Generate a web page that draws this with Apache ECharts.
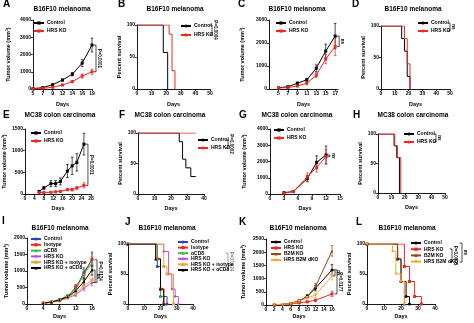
<!DOCTYPE html>
<html>
<head>
<meta charset="utf-8">
<script src="https://cdn.jsdelivr.net/npm/echarts@6/dist/echarts.min.js"></script>
<style>
  html, body { margin: 0; padding: 0; background: #fff; }
  #chart { width: 474px; height: 323px; }
</style>
</head>
<body>
<div id="chart"></div>
<script>
// ---------- A: B16F10 tumor growth ----------
const daysA = ['5', '7', '9', '12', '14', '16', '19'];
const ctrlA = [20, 80, 250, 520, 860, 1500, 2550];
const ctrlErrA = [10, 20, 40, 60, 100, 200, 400];
const hrsA = [10, 40, 100, 230, 430, 750, 1000];
const hrsErrA = [5, 10, 20, 40, 60, 120, 150];

// ---------- B: B16F10 survival ----------
const survCtrlDaysB = [0, 18, 21];
const survCtrlPctB = [100, 57.1, 0];
const survHrsDaysB = [0, 22, 24, 26];
const survHrsPctB = [100, 85.7, 28.6, 0];

// ---------- C: B16F10 tumor growth ----------
const daysC = [5, 7, 9, 11, 13, 15, 17];
const ctrlC = [50, 100, 250, 400, 900, 1650, 2300];
const ctrlErrC = [10, 20, 50, 60, 150, 300, 550];
const hrsC = [40, 60, 130, 250, 600, 1300, 1850];
const hrsErrC = [10, 15, 30, 50, 100, 200, 400];

// ---------- D: B16F10 survival ----------
const survCtrlDaysD = [0, 15, 17, 19, 21];
const survCtrlPctD = [100, 80, 60, 20, 0];
const survHrsDaysD = [0, 17, 19, 21];
const survHrsPctD = [100, 80, 40, 0];

// ---------- E: MC38 tumor growth ----------
const daysE = [6, 8, 11, 13, 15, 18, 20, 22, 25];
const ctrlE = [60, 140, 240, 240, 290, 530, 650, 730, 1150];
const ctrlErrE = [15, 30, 70, 70, 80, 150, 200, 200, 250];
const hrsE = [30, 35, 40, 50, 60, 100, 100, 140, 200];
const hrsErrE = [5, 10, 10, 10, 15, 20, 25, 30, 60];

// ---------- F: MC38 survival ----------
const survCtrlDaysF = [0, 25, 27, 29, 32, 35];
const survCtrlPctF = [100, 85.7, 57.1, 42.9, 28.6, 28.6];
const survHrsDaysF = [0, 35];
const survHrsPctF = [100, 100];

// ---------- G: MC38 tumor growth ----------
const daysG = [3, 5, 8, 10, 12];
const ctrlG = [80, 150, 950, 1950, 2400];
const ctrlErrG = [20, 30, 200, 400, 550];
const hrsG = [60, 150, 1050, 1650, 2300];
const hrsErrG = [20, 40, 250, 300, 450];

// ---------- H: MC38 survival ----------
const survCtrlDaysH = [0, 12, 14, 16];
const survCtrlPctH = [100, 80, 60, 0];
const survHrsDaysH = [0, 12.5, 14.5, 17];
const survHrsPctH = [100, 80, 60, 0];

// ---------- I: B16F10 growth with CD8 depletion ----------
const daysI = [4, 6, 8, 10, 12, 14, 16];
const ctrlI = [30, 60, 130, 230, 480, 950, 1340];
const ctrlErrI = [5, 10, 20, 40, 80, 150, 200];
const isoI = [30, 60, 120, 220, 510, 900, 1360];
const isoErrI = [5, 10, 20, 40, 80, 150, 220];
const cd8I = [30, 70, 140, 250, 450, 900, 1240];
const cd8ErrI = [5, 10, 20, 40, 80, 150, 200];
const hrsI = [20, 50, 100, 180, 280, 480, 650];
const hrsErrI = [5, 10, 15, 30, 50, 80, 100];
const hrsIsoI = [20, 50, 100, 200, 330, 550, 730];
const hrsIsoErrI = [5, 10, 15, 30, 50, 80, 120];
const hrsCd8I = [25, 60, 120, 220, 400, 680, 1030];
const hrsCd8ErrI = [5, 10, 20, 40, 60, 100, 150];

// ---------- J: B16F10 survival with CD8 depletion ----------
const survCtrlDaysJ = [0, 18, 20, 24];
const survCtrlPctJ = [100, 62.5, 12.5, 0];
const survIsoDaysJ = [0, 18, 20, 22];
const survIsoPctJ = [100, 75, 25, 0];
const survCd8DaysJ = [0, 18, 20, 22];
const survCd8PctJ = [100, 75, 12.5, 0];
const survHrsDaysJ = [0, 22, 25, 27, 29, 31];
const survHrsPctJ = [100, 87.5, 50, 25, 12.5, 0];
const survHrsIsoDaysJ = [0, 22, 24, 28];
const survHrsIsoPctJ = [100, 62.5, 50, 0];
const survHrsCd8DaysJ = [0, 17, 20, 22];
const survHrsCd8PctJ = [100, 75, 25, 0];

// ---------- K: B16F10 growth, B2M knockout ----------
const daysK = [2, 4, 6, 8, 10, 12, 16];
const ctrlK = [10, 20, 60, 150, 330, 640, 1330];
const ctrlErrK = [5, 5, 10, 30, 60, 100, 200];
const hrsK = [10, 20, 40, 80, 120, 180, 420];
const hrsErrK = [5, 5, 10, 15, 20, 40, 100];
const b2mK = [10, 20, 60, 160, 320, 700, 2050];
const b2mErrK = [5, 5, 10, 30, 60, 120, 200];
const dkoK = [10, 20, 50, 130, 280, 370, 1100];
const dkoErrK = [5, 5, 10, 25, 50, 80, 150];

// ---------- L: B16F10 survival, B2M knockout ----------
const survCtrlDaysL = [0, 18, 20, 23, 25];
const survCtrlPctL = [100, 75, 37.5, 12.5, 0];
const survHrsDaysL = [0, 22, 25, 28, 32];
const survHrsPctL = [100, 62.5, 37.5, 12.5, 0];
const survB2mDaysL = [0, 18, 20, 22];
const survB2mPctL = [100, 75, 37.5, 0];
const survDkoDaysL = [0, 15, 17, 20, 22];
const survDkoPctL = [100, 87.5, 50, 37.5, 0];

// ---------- styling ----------
const FONT = '"Liberation Sans", Arial, sans-serif';
const BLACK = '#000000';
const RED = '#ec2a23';
const BLUE = '#2a3fc4';
const GREEN = '#35c43a';
const VIOLET = '#b24fe0';
const ORANGE = '#f4a233';
const BROWN = '#8d4a1c';
const GOLD = '#f2ac2e';

const grids = [], xAxes = [], yAxes = [], series = [], legends = [];

const axisLineStyle = { show: true, onZero: false, lineStyle: { color: '#000', width: 0.9 } };
const axisTickStyle = { show: true, length: 2, lineStyle: { color: '#000', width: 0.8 } };
const tickLabelStyle = { fontSize: 5, fontWeight: 'bold', color: '#000', fontFamily: FONT, margin: 2,
  formatter: v => String(v) };
const nameStyle = { fontSize: 5.5, fontWeight: 'bold', color: '#000', fontFamily: FONT };

function addPanel(p) {
  const gi = grids.length;
  grids.push(p.grid);
  xAxes.push(Object.assign({
    gridIndex: gi, type: 'value', name: 'Days', nameLocation: 'middle', nameGap: p.xNameGap || 10,
    nameTextStyle: nameStyle, axisLine: axisLineStyle, axisTick: axisTickStyle,
    axisLabel: tickLabelStyle, splitLine: { show: false }
  }, p.x));
  yAxes.push(Object.assign({
    gridIndex: gi, type: 'value', name: p.yName, nameLocation: 'middle', nameGap: p.yNameGap,
    nameTextStyle: nameStyle, axisLine: axisLineStyle, axisTick: axisTickStyle,
    axisLabel: tickLabelStyle, splitLine: { show: false }
  }, p.y));
  return gi;
}

function errorBar(params, api) {
  const x = api.value(0), m = api.value(1), e = api.value(2);
  const hi = api.coord([x, m + e]);
  const lo = api.coord([x, Math.max(0, m - e)]);
  const c = api.visual('color'), w = 1.3;
  const st = { stroke: c, lineWidth: 0.7 };
  return {
    type: 'group', children: [
      { type: 'line', shape: { x1: hi[0], y1: hi[1], x2: lo[0], y2: lo[1] }, style: st },
      { type: 'line', shape: { x1: hi[0] - w, y1: hi[1], x2: hi[0] + w, y2: hi[1] }, style: st },
      { type: 'line', shape: { x1: lo[0] - w, y1: lo[1], x2: lo[0] + w, y2: lo[1] }, style: st }
    ]
  };
}

function growth(gi, key, label, xs, ys, errs, color, symbol, rot) {
  const name = key + '|' + label;
  series.push({
    type: 'custom', name: name + '|err', xAxisIndex: gi, yAxisIndex: gi,
    data: xs.map((x, i) => [x, ys[i], errs[i]]), encode: { x: 0, y: 1 },
    itemStyle: { color }, renderItem: errorBar, silent: true, z: 2
  });
  series.push({
    type: 'line', name, xAxisIndex: gi, yAxisIndex: gi,
    data: xs.map((x, i) => [x, ys[i]]),
    symbol, symbolSize: 3, symbolRotate: rot || 0, showSymbol: true,
    lineStyle: { color, width: 1 }, itemStyle: { color }, z: 3
  });
  return name;
}

function survival(gi, key, label, days, pct, color, symbol, rot) {
  const name = key + '|' + label;
  series.push({
    type: 'line', name, xAxisIndex: gi, yAxisIndex: gi, step: 'end',
    data: days.map((d, i) => [d, pct[i]]),
    symbol: symbol || 'none', symbolSize: 3, symbolRotate: rot || 0, showSymbol: !!symbol,
    lineStyle: { color, width: 1 }, itemStyle: { color }, z: 3
  });
  return name;
}

function legend(names, left, top, rowGap, size) {
  legends.push({
    data: names, left, top, orient: 'vertical', padding: 0,
    itemWidth: size ? size[0] : 10, itemHeight: size ? size[1] : 4, itemGap: rowGap - 6,
    selectedMode: false, formatter: n => n.split('|')[1],
    textStyle: { fontSize: 5, lineHeight: 6, fontWeight: 'bold', color: '#000', fontFamily: FONT, padding: [0, 0, 0, -2] }
  });
}

const volName = 'Tumor volume (mm³)';
const survName = 'Percent survival';
const survX = (max) => ({ min: 0, max, interval: 10 });
const survY = { min: 0, max: 100, interval: 50 };

// A
const gA = addPanel({ grid: { left: 33, top: 20, width: 59, height: 69 },
  x: { type: 'category', data: daysA, boundaryGap: false, axisTick: Object.assign({}, axisTickStyle, { alignWithLabel: true }) },
  y: { min: 0, max: 4000, interval: 1000 }, yName: volName, yNameGap: 22, xNameGap: 12 });
legend([growth(gA, 'A', 'Control', daysA, ctrlA, ctrlErrA, BLACK, 'rect'),
        growth(gA, 'A', 'HRS KO', daysA, hrsA, hrsErrA, RED, 'rect')], 33, 20, 8);

// B
const gB = addPanel({ grid: { left: 137, top: 25, width: 73, height: 64 },
  x: survX(50), y: survY, yName: survName, yNameGap: 13, xNameGap: 12 });
legend([survival(gB, 'B', 'Control', survCtrlDaysB, survCtrlPctB, BLACK),
        survival(gB, 'B', 'HRS KO', survHrsDaysB, survHrsPctB, RED)], 180, 23, 9);

// C
const gC = addPanel({ grid: { left: 269, top: 20, width: 69, height: 69 },
  x: { min: 3, max: 17.6, axisLabel: Object.assign({}, tickLabelStyle, { customValues: daysC }), axisTick: Object.assign({}, axisTickStyle, { customValues: daysC }) },
  y: { min: 0, max: 3000, interval: 1000 }, yName: volName, yNameGap: 24, xNameGap: 12 });
legend([growth(gC, 'C', 'Control', daysC, ctrlC, ctrlErrC, BLACK, 'rect'),
        growth(gC, 'C', 'HRS KO', daysC, hrsC, hrsErrC, RED, 'rect')], 275, 20, 8);

// D
const gD = addPanel({ grid: { left: 381, top: 26, width: 69, height: 63 },
  x: survX(50), y: survY, yName: survName, yNameGap: 14, xNameGap: 12 });
legend([survival(gD, 'D', 'Control', survCtrlDaysD, survCtrlPctD, BLACK),
        survival(gD, 'D', 'HRS KO', survHrsDaysD, survHrsPctD, RED)], 417, 20, 8);

// E
const gE = addPanel({ grid: { left: 25, top: 129, width: 66, height: 65 },
  x: { min: 0, max: 28, interval: 4 }, y: { min: 0, max: 1500, interval: 500 },
  yName: volName, yNameGap: 17, xNameGap: 11 });
legend([growth(gE, 'E', 'Control', daysE, ctrlE, ctrlErrE, BLACK, 'rect'),
        growth(gE, 'E', 'HRS KO', daysE, hrsE, hrsErrE, RED, 'rect')], 30, 130, 8);

// F
const gF = addPanel({ grid: { left: 138, top: 133, width: 66, height: 61 },
  x: survX(40), y: survY, yName: survName, yNameGap: 14, xNameGap: 11 });
legend([survival(gF, 'F', 'Control', survCtrlDaysF, survCtrlPctF, BLACK),
        survival(gF, 'F', 'HRS KO', survHrsDaysF, survHrsPctF, RED)], 197, 137, 8);

// G
const gG = addPanel({ grid: { left: 270, top: 129, width: 70, height: 65 },
  x: { min: 0, max: 15, interval: 3 }, y: { min: 0, max: 4000, interval: 1000 },
  yName: volName, yNameGap: 23, xNameGap: 11 });
legend([growth(gG, 'G', 'Control', daysG, ctrlG, ctrlErrG, BLACK, 'rect'),
        growth(gG, 'G', 'HRS KO', daysG, hrsG, hrsErrG, RED, 'rect')], 273, 127, 8);

// H
const gH = addPanel({ grid: { left: 378, top: 134, width: 67, height: 59 },
  x: survX(50), y: survY, yName: survName, yNameGap: 15, xNameGap: 11 });
legend([survival(gH, 'H', 'Control', survCtrlDaysH, survCtrlPctH, BLACK),
        survival(gH, 'H', 'HRS KO', survHrsDaysH, survHrsPctH, RED)], 403, 131, 8);

// I
const gI = addPanel({ grid: { left: 27, top: 238, width: 65, height: 66 },
  x: { min: 0, max: 16, interval: 4 }, y: { min: 0, max: 2000, interval: 500 },
  yName: volName, yNameGap: 18, xNameGap: 9 });
legend([growth(gI, 'I', 'Control', daysI, ctrlI, ctrlErrI, BLUE, 'circle'),
        growth(gI, 'I', 'Isotype', daysI, isoI, isoErrI, RED, 'rect'),
        growth(gI, 'I', 'αCD8', daysI, cd8I, cd8ErrI, GREEN, 'triangle'),
        growth(gI, 'I', 'HRS KO', daysI, hrsI, hrsErrI, VIOLET, 'diamond'),
        growth(gI, 'I', 'HRS KO + isotype', daysI, hrsIsoI, hrsIsoErrI, ORANGE, 'rect'),
        growth(gI, 'I', 'HRS KO + αCD8', daysI, hrsCd8I, hrsCd8ErrI, BLACK, 'triangle')], 30, 236, 5.8);

// J
const gJ = addPanel({ grid: { left: 128, top: 244, width: 65, height: 60 },
  x: survX(40), y: survY, yName: survName, yNameGap: 15, xNameGap: 9 });
legend([survival(gJ, 'J', 'Control', survCtrlDaysJ, survCtrlPctJ, BLUE, 'circle'),
        survival(gJ, 'J', 'Isotype', survIsoDaysJ, survIsoPctJ, RED, 'rect'),
        survival(gJ, 'J', 'αCD8', survCd8DaysJ, survCd8PctJ, GREEN, 'triangle'),
        survival(gJ, 'J', 'HRS KO', survHrsDaysJ, survHrsPctJ, VIOLET, 'diamond'),
        survival(gJ, 'J', 'HRS KO + isotype', survHrsIsoDaysJ, survHrsIsoPctJ, ORANGE, 'rect'),
        survival(gJ, 'J', 'HRS KO + αCD8', survHrsCd8DaysJ, survHrsCd8PctJ, BLACK, 'triangle')], 177, 239, 5.6);

// K
const gK = addPanel({ grid: { left: 266, top: 239, width: 66, height: 66 },
  x: { min: 0, max: 16, interval: 2 }, y: { min: 0, max: 2500, interval: 500 },
  yName: volName, yNameGap: 20, xNameGap: 8 });
legend([growth(gK, 'K', 'Control', daysK, ctrlK, ctrlErrK, BLACK, 'circle'),
        growth(gK, 'K', 'HRS KO', daysK, hrsK, hrsErrK, RED, 'rect'),
        growth(gK, 'K', 'B2M KO', daysK, b2mK, b2mErrK, BROWN, 'triangle'),
        growth(gK, 'K', 'HRS B2M dKO', daysK, dkoK, dkoErrK, GOLD, 'triangle', 180)], 270, 239, 6);

// L
const gL = addPanel({ grid: { left: 367, top: 244, width: 68, height: 60 },
  x: survX(40), y: survY, yName: survName, yNameGap: 11, xNameGap: 9 });
legend([survival(gL, 'L', 'Control', survCtrlDaysL, survCtrlPctL, BLACK, 'circle'),
        survival(gL, 'L', 'HRS KO', survHrsDaysL, survHrsPctL, RED, 'rect'),
        survival(gL, 'L', 'B2M KO', survB2mDaysL, survB2mPctL, BROWN, 'triangle'),
        survival(gL, 'L', 'HRS B2M dKO', survDkoDaysL, survDkoPctL, GOLD, 'triangle', 180)], 410, 240, 6.2);

const chart = echarts.init(document.getElementById('chart'), null, { renderer: 'canvas' });
chart.setOption({
  animation: false,
  backgroundColor: '#fff',
  grid: grids, xAxis: xAxes, yAxis: yAxes, series, legend: legends
});

// ---------- panel letters, titles and significance brackets ----------
const graphics = [];
function txt(x, y, text, font, align, rot, color) {
  graphics.push({ type: 'text', x, y, rotation: rot || 0, silent: true,
    style: { text, font, fill: color || '#000', textAlign: align || 'center', textVerticalAlign: 'middle' } });
}
const letterFont = 'bold 10px ' + FONT;
const titleFont = 'bold 6.5px ' + FONT;
const pFont = 'bold 4.5px ' + FONT;

[['A', 3, 4], ['B', 118, 4], ['C', 238, 4], ['D', 352, 4],
 ['E', 3, 115], ['F', 119, 115], ['G', 239, 115], ['H', 353, 115],
 ['I', 2, 221], ['J', 125, 222], ['K', 239, 222], ['L', 356, 222]]
  .forEach(([t, x, y]) => txt(x, y, t, letterFont, 'left'));

[['B16F10 melanoma', 62, 9.5], ['B16F10 melanoma', 175, 9.5], ['B16F10 melanoma', 297, 9.5], ['B16F10 melanoma', 413, 9.5],
 ['MC38 colon carcinoma', 60, 115], ['MC38 colon carcinoma', 170, 115], ['MC38 colon carcinoma', 297, 115], ['MC38 colon carcinoma', 413, 115],
 ['B16F10 melanoma', 60, 228], ['B16F10 melanoma', 167, 228], ['B16F10 melanoma', 298, 228], ['B16F10 melanoma', 407, 228]]
  .forEach(([t, x, y]) => txt(x, y, t, titleFont));

function bracketPx(x, y1, y2, label, color, arm) {
  const a = arm == null ? 2.5 : arm;
  graphics.push({ type: 'polyline', silent: true,
    shape: { points: [[x - a, y1], [x, y1], [x, y2], [x - a, y2]] },
    style: { stroke: color || '#000', lineWidth: 0.7, fill: null } });
  txt(x + 3.5, (y1 + y2) / 2, label, pFont, 'center', -Math.PI / 2, color);
}
function bracketData(gi, xVal, yA, yB, label, dx) {
  const p1 = chart.convertToPixel({ gridIndex: gi }, [xVal, yA]);
  const p2 = chart.convertToPixel({ gridIndex: gi }, [xVal, yB]);
  bracketPx(p1[0] + (dx || 4), p1[1], p2[1], label);
}
const last = a => a[a.length - 1];

bracketData(gA, last(daysA), last(ctrlA), last(hrsA), 'P=0.0001');
bracketPx(212, 25, 35, 'P=0.0004');
bracketData(gC, last(daysC), last(ctrlC), last(hrsC), 'ns');
bracketPx(450, 23, 31, 'ns');
bracketData(gE, last(daysE), last(ctrlE), last(hrsE), 'P=0.0001');
bracketPx(228, 140, 148, 'P=0.0002');
bracketData(gG, last(daysG), last(ctrlG), last(hrsG), 'ns');
bracketPx(436, 134, 142, 'ns');
bracketData(gI, last(daysI), last(ctrlI), last(hrsI), 'P=0.0174', 5);
bracketData(gI, last(daysI), last(hrsI), last(hrsCd8I), 'ns', 3);
bracketPx(228, 253, 270, 'P=0.0024', '#777');
bracketData(gK, last(daysK), last(ctrlK), last(hrsK), 'P=0.0177', 5);
bracketData(gK, last(daysK), last(ctrlK), last(dkoK), 'ns', 3);
bracketPx(462, 243, 262, 'ns');
bracketPx(452, 249, 262, 'P=0.0005');

chart.setOption({ graphic: graphics });
</script>
</body>
</html>
